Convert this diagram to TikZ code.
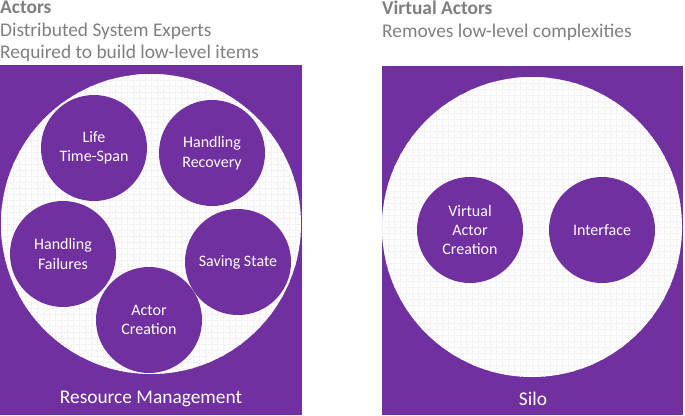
\documentclass[tikz,border=0pt]{standalone}
\usepackage{fontspec}
\setmainfont{Carlito}
\usepackage{tikz}
\usetikzlibrary{positioning}
\definecolor{actpurple}{HTML}{7030A0}
\definecolor{headgray}{HTML}{7F7F7F}
\tikzstyle{panel} = [rectangle, fill=actpurple, anchor=north west, inner sep=0pt]
\tikzstyle{ring} = [circle, fill=white, inner sep=0pt, minimum size=300pt,
  path picture={
    \draw[gray!10, line width=0.4pt] (path picture bounding box.south west) grid[step=6pt] (path picture bounding box.north east);
    \foreach \d in {-300,-294,...,300}
      \draw[gray!7, line width=0.4pt] ([xshift=\d pt]path picture bounding box.south west) -- ++(300pt,300pt);
  }]
\tikzstyle{block} = [circle, fill=actpurple, text=white, inner sep=0pt, minimum size=106pt,
  align=center, font=\fontsize{16}{19.5}\selectfont]
\tikzstyle{header} = [anchor=north west, inner sep=0pt, align=left, text=headgray,
  font=\fontsize{19.4}{22.5}\selectfont]
\tikzstyle{caption} = [text=white, font=\fontsize{19.4}{22}\selectfont]

\begin{document}
\begin{tikzpicture}[x=1pt, y=-1pt]
   \useasboundingbox (0,0) rectangle (685,415);
   % Headers
   \node [header] (h1) at (0,1) {\textbf{Actors}\\Distributed System Experts\\Required to build low-level items};
   \node [header] (h2) at (382,1) {\textbf{Virtual Actors}\\Removes low-level complexities};
   % Panels
   \node [panel, minimum width=302pt, minimum height=350pt] (p1) at (0,65) {};
   \node [panel, minimum width=301pt, minimum height=349pt] (p2) at (382,66) {};
   \node [ring] (r1) at (151,224) {};
   \node [ring] (r2) at (532,227) {};
   % Place nodes
   \node [block] (1) at (94,148) {Life\\Time-Span};
   \node [block] (2) at (212,153) {Handling\\Recovery};
   \node [block] (3) at (63,254) {Handling\\Failures};
   \node [block] (4) at (238,262) {Saving State};
   \node [block] (5) at (149,320) {Actor\\Creation};
   \node [block] (6) at (470,230) {Virtual\\Actor\\Creation};
   \node [block] (7) at (602,230) {Interface};
   % Captions
   \node [caption] (c1) at (151,399) {Resource Management};
   \node [caption] (c2) at (533,399) {Silo};
\end{tikzpicture}
\end{document}
